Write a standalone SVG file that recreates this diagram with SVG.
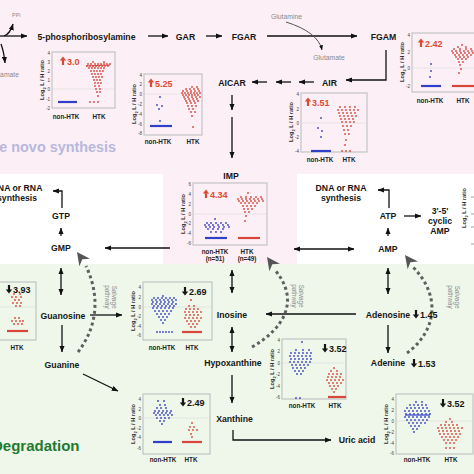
<svg xmlns="http://www.w3.org/2000/svg" xmlns:xlink="http://www.w3.org/1999/xlink" width="474" height="474" viewBox="0 0 474 474">
<style>
text{font-family:"Liberation Sans",Arial,sans-serif}
.n{font-size:8.7px;font-weight:bold;text-anchor:middle;fill:#161616}
.g{font-size:6.8px;fill:#8a8a8a}
.pl{font-size:6.3px;font-weight:bold;text-anchor:middle;fill:#222}
.tk{font-size:4.5px;text-anchor:end;fill:#444}
.yl{font-size:5.6px;font-weight:bold;text-anchor:middle;fill:#333}
.up{font-size:9px;font-weight:bold;fill:#dc4a33}
.dn{font-size:9px;font-weight:bold;fill:#151515}
.sv{font-size:6.3px;fill:#8a8a8a;text-anchor:middle}
.box{fill:none;stroke:#c4c4c4;stroke-width:1.2}
.z{stroke:#dadada;stroke-width:0.6}
.bd{fill:none;stroke:#3a44c4;stroke-width:1.8;stroke-linecap:round}
.rd{fill:none;stroke:#d8463c;stroke-width:1.8;stroke-linecap:round}
.bl{stroke:#2f3fc8;stroke-width:2.2}
.rl{stroke:#d8463c;stroke-width:2.2}
.e{fill:none;stroke:#111;stroke-width:1.3;marker-end:url(#ah)}
.d{marker-start:url(#ah)}
.s{fill:none;stroke:#5e5e5e;stroke-width:3;stroke-dasharray:3 3}
.sh{fill:#555}
</style>
<defs>
<marker id="ah" viewBox="0 0 10 8" refX="9.5" refY="4" markerWidth="5" markerHeight="4.2" orient="auto-start-reverse"><path d="M0,0L10,4L0,8Z" fill="#111"/></marker>
<path id="ua" d="M0-4.5L3.2-0.5H1.1V4H-1.1V-0.5H-3.2Z"/>
</defs>
<!-- backgrounds -->
<rect x="0" y="0" width="474" height="265" fill="#fcf0f6"/>
<rect x="0" y="174" width="163" height="91" fill="#ffffff"/>
<rect x="297" y="174" width="177" height="91" fill="#ffffff"/>
<rect x="0" y="264" width="474" height="210" fill="#eef7ea"/>
<text x="-9.5" y="152" style="font-size:14.4px;font-weight:bold;fill:#b6b8dc">de novo synthesis</text>
<text x="-8" y="451" style="font-size:15px;font-weight:bold;fill:#1f7a30">Degradation</text>

<g id="connectors">
<path class="e" d="M0,36H27"/>
<path class="e" d="M4,36Q10,34 13,24"/>
<path class="e" d="M1,44Q4,52 5,63"/>
<path class="e" d="M148,36H168"/>
<path class="e" d="M206,36H222"/>
<path class="e" d="M267,36H357"/>
<path class="e" d="M286,22Q318,32 322,50" style="stroke:#555;stroke-width:1"/>
<path class="e" d="M386,50V80H346"/>
<path class="e" d="M314,82H299"/>
<path class="e" d="M291,82H276"/>
<path class="e" d="M267,82H252"/>
<path class="e" d="M232,95V110"/>
<path class="e" d="M232,117V158"/>
<path class="e" d="M170,248H105"/>
<path class="e d" d="M294,249H354"/>
<path class="e" d="M61,236V228"/>
<path class="e" d="M62,208V191H53"/>
<path class="e" d="M388,236V228"/>
<path class="e" d="M389,208V190H378"/>
<path class="e" d="M404,216H421"/>
<path class="e d" d="M61,268V295"/>
<path class="e" d="M90,315H122"/>
<path class="e" d="M62,325V352"/>
<path class="e" d="M83,374L118,391"/>
<path class="e d" d="M232,270V293"/>
<path class="e d" d="M232,327V352"/>
<path class="e" d="M356,314H266"/>
<path class="e d" d="M388,268V294"/>
<path class="e" d="M388,325V353"/>
<path class="e" d="M232,375V403"/>
<path class="e" d="M233,430V440H331"/>
<!-- salvage pathways -->
<path class="s" d="M78,352C95,330 102,300 86,266"/>
<polygon class="sh" points="0,0 -13,-6.5 -9,0 -13,6.5" transform="translate(77,252) rotate(-126)"/>
<path class="s" d="M252,347C285,328 300,300 275,270"/>
<polygon class="sh" points="0,0 -13,-6.5 -9,0 -13,6.5" transform="translate(267,257) rotate(-126)"/>
<path class="s" d="M407,353C432,335 445,300 413,267"/>
<polygon class="sh" points="0,0 -13,-6.5 -9,0 -13,6.5" transform="translate(405,255) rotate(-127)"/>
</g>
<g transform="translate(110,297) rotate(90)"><text class="sv" y="-1.5">Salvage</text><text class="sv" y="5.5">pathway</text></g>
<g transform="translate(297,296) rotate(90)"><text class="sv" y="-1.5">Salvage</text><text class="sv" y="5.5">pathway</text></g>
<g transform="translate(453,297) rotate(90)"><text class="sv" y="-1.5">Salvage</text><text class="sv" y="5.5">pathway</text></g>

<!-- side labels -->
<text class="g" x="12" y="17" style="font-size:5.5px">PPi</text>
<text class="g" x="19" y="77" text-anchor="end">Glutamate</text>
<text class="g" x="286.5" y="18.5" text-anchor="middle">Glutamine</text>
<text class="g" x="329" y="60" text-anchor="middle">Glutamate</text>

<g id="n-5pra"><text class="n" x="86.5" y="39.5">5-phosphoribosylamine</text></g>
<g id="n-gar"><text class="n" x="185.5" y="39.5">GAR</text></g>
<g id="n-fgar"><text class="n" x="244" y="39.5">FGAR</text></g>
<g id="n-fgam"><text class="n" x="383.5" y="39.5">FGAM</text></g>
<g id="n-air"><text class="n" x="329.5" y="85.5">AIR</text></g>
<g id="n-aicar"><text class="n" x="232" y="86">AICAR</text></g>
<g id="n-imp"><text class="n" x="231" y="179">IMP</text></g>
<g id="n-gtp"><text class="n" x="61" y="219">GTP</text></g>
<g id="n-gmp"><text class="n" x="61" y="251">GMP</text></g>
<g id="n-dna1"><text class="n" x="17" y="191">DNA or RNA</text><text class="n" x="17" y="201">synthesis</text></g>
<g id="n-dna2"><text class="n" x="341" y="191">DNA or RNA</text><text class="n" x="341" y="201">synthesis</text></g>
<g id="n-atp"><text class="n" x="388" y="219">ATP</text></g>
<g id="n-amp"><text class="n" x="388" y="252">AMP</text></g>
<g id="n-camp"><text class="n" x="440" y="214">3'-5'</text><text class="n" x="440" y="224">cyclic</text><text class="n" x="440" y="234">AMP</text></g>
<g id="n-guanosine"><text class="n" x="63" y="318.5">Guanosine</text></g>
<g id="n-guanine"><text class="n" x="62" y="368">Guanine</text></g>
<g id="n-inosine"><text class="n" x="232" y="317.5">Inosine</text></g>
<g id="n-hypox"><text class="n" x="233" y="366">Hypoxanthine</text></g>
<g id="n-xanthine"><text class="n" x="234.5" y="422">Xanthine</text></g>
<g id="n-adenosine"><text class="n" x="388" y="317.5">Adenosine</text><use href="#ua" transform="translate(416,314) rotate(180)" fill="#151515"/><text class="dn" x="420" y="317.5">1.45</text></g>
<g id="n-adenine"><text class="n" x="388" y="366">Adenine</text><use href="#ua" transform="translate(414,363) rotate(180)" fill="#151515"/><text class="dn" x="418" y="366.5">1.53</text></g>
<g id="n-uric"><text class="n" x="357" y="443">Uric acid</text></g>

<!-- plot 1: 5-PRA -->
<g id="plot-5pra">
<rect class="box" x="52" y="52" width="63" height="56"/>
<line class="z" x1="52" y1="89" x2="115" y2="89"/>
<text class="tk" x="50" y="54.5">4</text><text class="tk" x="50" y="63.5">3</text><text class="tk" x="50" y="72.5">2</text><text class="tk" x="50" y="81.5">1</text><text class="tk" x="50" y="90.5">0</text><text class="tk" x="50" y="100.5">-1</text><text class="tk" x="50" y="109.5">-2</text>
<text class="yl" transform="translate(44,80) rotate(-90)">Log<tspan font-size="4" dy="1.5">2</tspan><tspan dy="-1.5"> L / H ratio</tspan></text>
<line class="bl" x1="58" y1="102" x2="77" y2="102"/>
<path class="rd" d="M93 62h0M104 62h0M88 64h0M91 64h0M95 64h0M98 64h0M101 64h0M104 64h0M107 64h0M110 64h0M87 66h0M90 66h0M93 66h0M96 66h0M99 66h0M102 66h0M105 66h0M108 66h0M89 68h0M92 68h0M95 68h0M98 68h0M101 68h0M104 68h0M91 71h0M94 71h0M97 71h0M100 71h0M103 71h0M92 74h0M95 74h0M98 74h0M101 74h0M93 77h0M96 77h0M99 77h0M102 77h0M94 80h0M97 80h0M100 80h0M95 83h0M98 83h0M101 83h0M95 86h0M99 86h0M96 89h0M100 89h0M97 92h0M100 92h0M98 96h0M90 102h0M94 102h0M98 102h0"/>
<line class="rl" x1="86" y1="66" x2="110" y2="65" style="stroke-width:1.2"/>
<use href="#ua" transform="translate(63,61)" fill="#dc4a33"/><text class="up" x="67" y="64.5">3.0</text>
<text class="pl" x="66" y="118.5">non-HTK</text><text class="pl" x="99" y="118.5">HTK</text>
</g>

<!-- plot 2: AICAR -->
<g id="plot-aicar">
<rect class="box" x="144" y="74" width="58" height="61"/>
<line class="z" x1="144" y1="94" x2="202" y2="94"/>
<text class="tk" x="142" y="76.5">4</text><text class="tk" x="142" y="85.5">2</text><text class="tk" x="142" y="95.5">0</text><text class="tk" x="142" y="105.5">-2</text><text class="tk" x="142" y="115.5">-4</text><text class="tk" x="142" y="125.5">-6</text><text class="tk" x="142" y="134.5">-8</text>
<text class="yl" transform="translate(136,104) rotate(-90)">Log<tspan font-size="4" dy="1.5">2</tspan><tspan dy="-1.5"> L / H ratio</tspan></text>
<line class="bl" x1="150" y1="126" x2="172" y2="126"/>
<path class="bd" d="M160 97h0M157 105h0M162 106h0M159 109h0M160 121h0"/>
<path class="rd" d="M192 87h0M197 87h0M186 89h0M190 89h0M194 89h0M198 89h0M183 91h0M187 91h0M191 91h0M195 91h0M199 91h0M182 93h0M185 93h0M188 93h0M191 93h0M194 93h0M197 93h0M200 93h0M183 95h0M186 95h0M189 95h0M192 95h0M195 95h0M198 95h0M184 97h0M188 97h0M192 97h0M196 97h0M200 97h0M185 99h0M189 99h0M193 99h0M197 99h0M186 101h0M190 101h0M194 101h0M198 101h0M187 103h0M191 103h0M195 103h0M188 106h0M192 106h0M196 106h0M189 109h0M193 109h0M191 112h0M195 112h0M192 116h0M193 127h0"/>
<use href="#ua" transform="translate(151,83)" fill="#dc4a33"/><text class="up" x="155" y="86.5">5.25</text>
<text class="pl" x="158" y="143.5">non-HTK</text><text class="pl" x="193" y="143.5">HTK</text>
</g>

<!-- plot 3: FGAM -->
<g id="plot-fgam">
<rect class="box" x="412" y="33" width="70" height="59"/>
<line class="z" x1="412" y1="68" x2="482" y2="68"/>
<text class="tk" x="410" y="36.5">4</text><text class="tk" x="410" y="53.5">2</text><text class="tk" x="410" y="69.5">0</text><text class="tk" x="410" y="87.5">-2</text>
<text class="yl" transform="translate(404,62) rotate(-90)">Log<tspan font-size="4" dy="1.5">2</tspan><tspan dy="-1.5"> L / H ratio</tspan></text>
<line class="bl" x1="421" y1="86" x2="441" y2="86"/>
<line class="rl" x1="452" y1="86" x2="478" y2="86"/>
<path class="bd" d="M431 64h0M431 71h0M430 77h0"/>
<path class="rd" d="M462 45h0M458 47h0M466 47h0M454 49h0M460 49h0M466 49h0M471 49h0M452 51h0M456 51h0M460 51h0M464 51h0M468 51h0M472 51h0M453 53h0M457 53h0M461 53h0M465 53h0M469 53h0M473 53h0M455 55h0M459 55h0M463 55h0M467 55h0M471 55h0M456 57h0M460 57h0M464 57h0M468 57h0M458 59h0M462 59h0M466 59h0M459 62h0M463 62h0M460 65h0M461 69h0M459 73h0"/>
<use href="#ua" transform="translate(421,43)" fill="#dc4a33"/><text class="up" x="425" y="46.5">2.42</text>
<text class="pl" x="430" y="102.5">non-HTK</text><text class="pl" x="463" y="102.5">HTK</text>
</g>

<!-- plot 4: AIR -->
<g id="plot-air">
<rect class="box" x="301" y="93" width="66" height="59"/>
<line class="z" x1="301" y1="123" x2="367" y2="123"/>
<text class="tk" x="299" y="95.5">4</text><text class="tk" x="299" y="110.5">2</text><text class="tk" x="299" y="124.5">0</text><text class="tk" x="299" y="138.5">-2</text><text class="tk" x="299" y="152.5">-4</text>
<text class="yl" transform="translate(293,122) rotate(-90)">Log<tspan font-size="4" dy="1.5">2</tspan><tspan dy="-1.5"> L / H ratio</tspan></text>
<line class="bl" x1="311" y1="151" x2="331" y2="151"/>
<path class="bd" d="M321 118h0M318 128h0M322 131h0M321 137h0"/>
<path class="rd" d="M340 107h0M345 107h0M350 107h0M355 107h0M338 110h0M342 110h0M346 110h0M350 110h0M354 110h0M358 110h0M339 113h0M343 113h0M347 113h0M351 113h0M355 113h0M340 116h0M344 116h0M348 116h0M352 116h0M356 116h0M341 119h0M345 119h0M349 119h0M353 119h0M342 122h0M346 122h0M350 122h0M354 122h0M343 126h0M347 126h0M351 126h0M344 130h0M348 130h0M345 134h0M349 134h0M346 140h0M345 145h0M342 151h0M346 151h0M350 151h0"/>
<use href="#ua" transform="translate(308,102)" fill="#dc4a33"/><text class="up" x="312" y="105.5">3.51</text>
<text class="pl" x="320" y="161.5">non-HTK</text><text class="pl" x="349" y="161.5">HTK</text>
</g>

<!-- IMP plot -->
<g id="plot-imp">
<rect class="box" x="193" y="183" width="74" height="62"/>
<line class="z" x1="193" y1="214" x2="267" y2="214"/>
<text class="tk" x="191" y="185.5">6</text><text class="tk" x="191" y="195.5">4</text><text class="tk" x="191" y="205.5">2</text><text class="tk" x="191" y="215.5">0</text><text class="tk" x="191" y="224.5">-2</text><text class="tk" x="191" y="234.5">-4</text><text class="tk" x="191" y="244.5">-6</text>
<text class="yl" transform="translate(185,214) rotate(-90)">Log<tspan font-size="4" dy="1.5">2</tspan><tspan dy="-1.5"> L / H ratio</tspan></text>
<line class="bl" x1="205" y1="238" x2="227" y2="238"/>
<line class="rl" x1="238" y1="238" x2="260" y2="238"/>
<path class="bd" d="M215 219h0M207 223h0M211 223h0M216 223h0M221 223h0M226 223h0M205 225h0M209 225h0M213 225h0M218 225h0M223 225h0M228 225h0M206 227h0M210 227h0M214 227h0M219 227h0M224 227h0M229 227h0M208 229h0M213 229h0M218 229h0M223 229h0M211 232h0M216 232h0M221 232h0"/>
<path class="rd" d="M248 193h0M241 197h0M246 197h0M251 197h0M256 197h0M261 197h0M238 199h0M242 199h0M246 199h0M250 199h0M254 199h0M258 199h0M262 199h0M239 201h0M243 201h0M247 201h0M251 201h0M255 201h0M259 201h0M263 201h0M241 203h0M245 203h0M249 203h0M253 203h0M257 203h0M243 206h0M247 206h0M251 206h0M255 206h0M244 209h0M248 209h0M252 209h0M245 212h0M249 212h0M246 216h0M245 221h0"/>
<use href="#ua" transform="translate(206,194)" fill="#dc4a33"/><text class="up" x="210" y="197.5">4.34</text>
<text class="pl" x="215" y="253.5">non-HTK</text><text class="pl" x="215" y="260.5">(n=51)</text>
<text class="pl" x="247" y="253.5">HTK</text><text class="pl" x="247" y="260.5">(n=49)</text>
</g>

<!-- cut plot at right edge -->
<g id="plot-camp">
<text class="yl" transform="translate(466,208) rotate(-90)">Log<tspan font-size="4" dy="1.5">2</tspan><tspan dy="-1.5"> L / H ratio</tspan></text>
<path d="M471 197h3M471 214h3M471 227h3M471 244h3" stroke="#666" stroke-width="0.6"/>
</g>

<!-- guanosine plot (cut) -->
<g id="plot-guanosine">
<rect class="box" x="-40" y="282" width="76" height="58"/>
<line class="z" x1="0" y1="307" x2="36" y2="307"/>
<line class="rl" x1="7" y1="331" x2="28" y2="331"/>
<path class="rd" d="M17 291h0M14 294h0M20 294h0M12 297h0M16 297h0M21 297h0M15 300h0M19 300h0M13 303h0M17 303h0M21 303h0M16 306h0M20 306h0M15 318h0M19 318h0M12 321h0M16 321h0M20 321h0M23 321h0M14 324h0M18 324h0M22 324h0"/>
<use href="#ua" transform="translate(9,289) rotate(180)" fill="#151515"/><text class="dn" x="13" y="292.5">3.93</text>
<text class="pl" x="17" y="350">HTK</text>
</g>

<!-- inosine plot -->
<g id="plot-inosine">
<rect class="box" x="143" y="282" width="69" height="58"/>
<line class="z" x1="143" y1="307" x2="212" y2="307"/>
<text class="tk" x="141" y="288.5">4</text><text class="tk" x="141" y="298.5">2</text><text class="tk" x="141" y="308.5">0</text><text class="tk" x="141" y="317.5">-2</text><text class="tk" x="141" y="327.5">-4</text><text class="tk" x="141" y="336.5">-6</text>
<text class="yl" transform="translate(135,311) rotate(-90)">Log<tspan font-size="4" dy="1.5">2</tspan><tspan dy="-1.5"> L / H ratio</tspan></text>
<line class="rl" x1="182" y1="332" x2="202" y2="332"/>
<path class="bd" d="M163 296h0M154 298h0M158 298h0M162 298h0M166 298h0M170 298h0M174 298h0M152 300h0M156 300h0M160 300h0M164 300h0M168 300h0M172 300h0M176 300h0M153 302h0M157 302h0M161 302h0M165 302h0M169 302h0M173 302h0M152 304h0M156 304h0M160 304h0M164 304h0M168 304h0M172 304h0M176 304h0M154 306h0M158 306h0M162 306h0M166 306h0M170 306h0M174 306h0M153 308h0M157 308h0M161 308h0M165 308h0M169 308h0M173 308h0M155 311h0M159 311h0M163 311h0M167 311h0M171 311h0M157 314h0M161 314h0M165 314h0M169 314h0M159 317h0M163 317h0M167 317h0M161 320h0M165 320h0M163 323h0M157 332h0M160 332h0M163 332h0M166 332h0M169 332h0M172 332h0"/>
<path class="rd" d="M191 300h0M189 306h0M194 306h0M186 309h0M190 309h0M194 309h0M198 309h0M185 312h0M189 312h0M193 312h0M197 312h0M201 312h0M186 315h0M190 315h0M194 315h0M198 315h0M185 318h0M189 318h0M193 318h0M197 318h0M201 318h0M187 321h0M191 321h0M195 321h0M199 321h0M189 324h0M193 324h0M197 324h0M191 327h0M195 327h0"/>
<use href="#ua" transform="translate(185,291) rotate(180)" fill="#151515"/><text class="dn" x="189" y="294.5">2.69</text>
<text class="pl" x="162" y="350">non-HTK</text><text class="pl" x="192" y="350">HTK</text>
</g>

<!-- hypoxanthine plot -->
<g id="plot-hypox">
<rect class="box" x="282" y="339" width="64" height="60"/>
<line class="z" x1="282" y1="363" x2="346" y2="363"/>
<text class="tk" x="280" y="341.5">4</text><text class="tk" x="280" y="352.5">2</text><text class="tk" x="280" y="364.5">0</text><text class="tk" x="280" y="375.5">-2</text><text class="tk" x="280" y="387.5">-4</text><text class="tk" x="280" y="399">-6</text>
<text class="yl" transform="translate(274,369) rotate(-90)">Log<tspan font-size="4" dy="1.5">2</tspan><tspan dy="-1.5"> L / H ratio</tspan></text>
<line class="rl" x1="328" y1="397" x2="346" y2="397"/>
<path class="bd" d="M302 342h0M296 350h0M303 350h0M309 350h0M291 353h0M295 353h0M299 353h0M303 353h0M307 353h0M311 353h0M290 356h0M294 356h0M298 356h0M302 356h0M306 356h0M310 356h0M291 359h0M295 359h0M299 359h0M303 359h0M307 359h0M311 359h0M290 362h0M294 362h0M298 362h0M302 362h0M306 362h0M310 362h0M292 365h0M296 365h0M300 365h0M304 365h0M308 365h0M293 368h0M297 368h0M301 368h0M305 368h0M295 371h0M299 371h0M303 371h0M297 374h0M301 374h0M296 398h0M300 398h0"/>
<path class="rd" d="M334 368h0M331 371h0M337 371h0M329 374h0M333 374h0M337 374h0M341 374h0M328 377h0M332 377h0M336 377h0M340 377h0M327 380h0M331 380h0M335 380h0M339 380h0M343 380h0M329 383h0M333 383h0M337 383h0M341 383h0M330 386h0M334 386h0M338 386h0M332 389h0M336 389h0M334 392h0"/>
<use href="#ua" transform="translate(325,348) rotate(180)" fill="#151515"/><text class="dn" x="329" y="351.5">3.52</text>
<text class="pl" x="302" y="408">non-HTK</text><text class="pl" x="335" y="408">HTK</text>
</g>

<!-- xanthine plot -->
<g id="plot-xanthine">
<rect class="box" x="143" y="394" width="67" height="60"/>
<line class="z" x1="143" y1="418" x2="210" y2="418"/>
<text class="tk" x="141" y="400.5">4</text><text class="tk" x="141" y="410.5">2</text><text class="tk" x="141" y="419.5">0</text><text class="tk" x="141" y="429.5">-2</text><text class="tk" x="141" y="438.5">-4</text><text class="tk" x="141" y="449.5">-6</text>
<text class="yl" transform="translate(135,424) rotate(-90)">Log<tspan font-size="4" dy="1.5">2</tspan><tspan dy="-1.5"> L / H ratio</tspan></text>
<line class="bl" x1="153" y1="442" x2="172" y2="442"/>
<line class="rl" x1="182" y1="442" x2="202" y2="442"/>
<path class="bd" d="M158 401h0M164 401h0M160 405h0M165 405h0M157 408h0M161 408h0M166 408h0M155 411h0M159 411h0M163 411h0M167 411h0M171 411h0M154 413h0M158 413h0M162 413h0M166 413h0M170 413h0M156 415h0M160 415h0M164 415h0M168 415h0M172 415h0M157 418h0M161 418h0M165 418h0M169 418h0M160 421h0M164 421h0M162 424h0"/>
<path class="rd" d="M192 423h0M190 427h0M194 427h0M189 430h0M193 430h0M197 430h0M191 434h0M192 437h0"/>
<use href="#ua" transform="translate(183,402) rotate(180)" fill="#151515"/><text class="dn" x="187" y="405.5">2.49</text>
<text class="pl" x="163" y="462">non-HTK</text><text class="pl" x="191" y="462">HTK</text>
</g>

<!-- uric acid plot -->
<g id="plot-uric">
<rect class="box" x="396" y="394" width="77" height="60"/>
<line class="z" x1="396" y1="421" x2="473" y2="421"/>
<text class="tk" x="394" y="400.5">4</text><text class="tk" x="394" y="411.5">2</text><text class="tk" x="394" y="422.5">0</text><text class="tk" x="394" y="433.5">-2</text><text class="tk" x="394" y="444.5">-4</text><text class="tk" x="394" y="454.5">-6</text>
<text class="yl" transform="translate(388,424) rotate(-90)">Log<tspan font-size="4" dy="1.5">2</tspan><tspan dy="-1.5"> L / H ratio</tspan></text>
<path class="bd" d="M416 402h0M422 402h0M410 405h0M414 405h0M418 405h0M422 405h0M426 405h0M407 408h0M411 408h0M415 408h0M419 408h0M423 408h0M427 408h0M405 411h0M409 411h0M413 411h0M417 411h0M421 411h0M425 411h0M429 411h0M406 414h0M410 414h0M414 414h0M418 414h0M422 414h0M426 414h0M430 414h0M405 417h0M409 417h0M413 417h0M417 417h0M421 417h0M425 417h0M429 417h0M407 420h0M411 420h0M415 420h0M419 420h0M423 420h0M427 420h0M409 423h0M413 423h0M417 423h0M421 423h0M425 423h0M411 426h0M415 426h0M419 426h0M413 429h0M417 429h0M414 432h0"/>
<line class="bl" x1="405" y1="415" x2="430" y2="415" style="stroke-width:1.2"/>
<path class="rd" d="M450 419h0M446 422h0M452 422h0M441 425h0M445 425h0M449 425h0M453 425h0M457 425h0M438 428h0M442 428h0M446 428h0M450 428h0M454 428h0M458 428h0M462 428h0M439 431h0M443 431h0M447 431h0M451 431h0M455 431h0M459 431h0M440 434h0M444 434h0M448 434h0M452 434h0M456 434h0M460 434h0M442 437h0M446 437h0M450 437h0M454 437h0M458 437h0M444 440h0M448 440h0M452 440h0M456 440h0M446 443h0M450 443h0M454 443h0M446 448h0M450 448h0M454 448h0"/>
<use href="#ua" transform="translate(443,403) rotate(180)" fill="#151515"/><text class="dn" x="447" y="406.5">3.52</text>
<text class="pl" x="417" y="462">non-HTK</text><text class="pl" x="451" y="462">HTK</text>
</g>
</svg>
